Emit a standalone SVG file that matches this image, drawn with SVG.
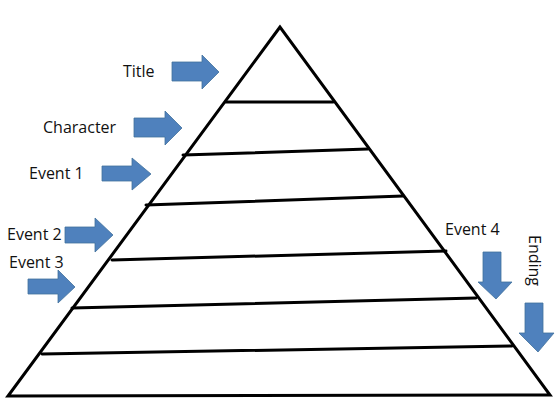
<svg xmlns="http://www.w3.org/2000/svg" width="560" height="420" viewBox="0 0 560 420">
<style>
.ln{stroke:#000;stroke-width:3;fill:none;stroke-linecap:round;stroke-linejoin:miter}
.ar{fill:#4F81BD;stroke:#41719C;stroke-width:0.8}
.t{font-family:"Open Sans","Liberation Sans",sans-serif;font-size:16px;fill:#111}
</style>
<rect width="560" height="420" fill="#fff"/>
<g id="pyramid">
<polygon class="ln" points="280,27 8,396 550,395"/>
</g>
<g id="levels">
<line class="ln" x1="226" y1="102" x2="333" y2="102"/>
<line class="ln" x1="183" y1="155" x2="368" y2="149"/>
<line class="ln" x1="146" y1="205" x2="403" y2="196"/>
<line class="ln" x1="112" y1="260" x2="446" y2="251"/>
<line class="ln" x1="72" y1="308" x2="476" y2="298"/>
<line class="ln" x1="42" y1="354" x2="512" y2="346"/>
</g>
<g id="connectors">
<polygon class="ar" points="172,62 202,62 202,55 219,72 202,89 202,81 172,81"/>
<polygon class="ar" points="134,118 165,118 165,111 182,128 165,145 165,137 134,137"/>
<polygon class="ar" points="102,166 132,166 132,158 151,174 132,190 132,181 102,181"/>
<polygon class="ar" points="65,227 95,227 95,218 113,235 95,252 95,243 65,243"/>
<polygon class="ar" points="28,279 58,279 58,270 75,287 58,303 58,294 28,294"/>
<polygon class="ar" points="483,252 501,252 501,282 512,282 496,299 478,282 483,282"/>
<polygon class="ar" points="525,303 543,303 543,333 554,333 538,352 519,333 525,333"/>
</g>
<g id="title"><text class="t" x="123" y="77">Title</text></g>
<g id="character"><text class="t" x="43" y="133">Character</text></g>
<g id="event1"><text class="t" x="29" y="179">Event 1</text></g>
<g id="event2"><text class="t" x="7" y="240">Event 2</text></g>
<g id="event3"><text class="t" x="9" y="268">Event 3</text></g>
<g id="event4"><text class="t" x="445" y="235">Event 4</text></g>
<g id="ending"><text class="t" transform="translate(529,235) rotate(90)">Ending</text></g>
</svg>
